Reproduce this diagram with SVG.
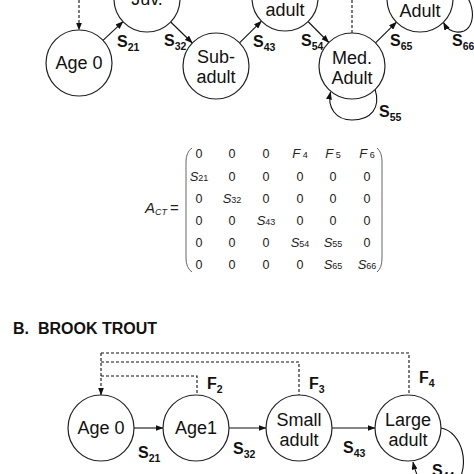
<svg xmlns="http://www.w3.org/2000/svg" width="474" height="474" viewBox="0 0 474 474">
<style>
.node{fill:#fff;stroke:#222;stroke-width:1.2}
.lbl{font-family:"Liberation Sans",Arial,sans-serif;font-size:18px;fill:#111;text-anchor:middle}
.edge{fill:none;stroke:#111;stroke-width:1.1}
.dash{fill:none;stroke:#111;stroke-width:1.1;stroke-dasharray:3 2}
.s{font-family:"Liberation Sans",Arial,sans-serif;font-size:16px;font-weight:bold;fill:#111}
.sub{font-size:10.5px}
.m{font-family:"Liberation Sans",Arial,sans-serif;font-size:12.5px;fill:#222;text-anchor:middle}
.mi{font-style:italic;font-size:13px}
.ms{font-size:9px;font-style:normal}
.title{font-family:"Liberation Sans",Arial,sans-serif;font-size:16px;font-weight:bold;fill:#111}
</style>
<defs>
<marker id="ah" markerWidth="8" markerHeight="6" refX="7.5" refY="3" orient="auto" markerUnits="userSpaceOnUse">
<path d="M0,0 L8,3 L0,6 Z" fill="#111"/>
</marker>
</defs>
<rect width="474" height="474" fill="#fff"/>

<g id="connectors">
<path class="dash" d="M79,0 V30" marker-end="url(#ah)"/>
<path class="edge" d="M103,40.4 L123,21.6" marker-end="url(#ah)"/>
<path class="edge" d="M170.7,22 L192.3,43" marker-end="url(#ah)"/>
<path class="edge" d="M239.5,42.8 L261.5,21.2" marker-end="url(#ah)"/>
<path class="edge" d="M308,21.5 L328.8,42.5" marker-end="url(#ah)"/>
<path class="edge" d="M375.5,42.8 L396.5,22.2" marker-end="url(#ah)"/>
<path class="dash" d="M352,0 V33"/>
<path class="edge" d="M375,89 C381,108 371,120 352,120 C336,120 327,108 330.5,92" marker-end="url(#ah)"/>
<path class="edge" d="M449,-16 C474,-10 479,24 464,31 C456,34 448,31 443.5,22.5" marker-end="url(#ah)"/>
<path class="dash" d="M101,353 V395" marker-end="url(#ah)"/>
<path class="dash" d="M101,353 H409 V395"/>
<path class="dash" d="M101,362 H299 V395"/>
<path class="dash" d="M101,376 H197 V395"/>
<path class="edge" d="M134,428 H163" marker-end="url(#ah)"/>
<path class="edge" d="M229,428 H266" marker-end="url(#ah)"/>
<path class="edge" d="M332,428 H375" marker-end="url(#ah)"/>
<path class="edge" d="M441,428 C462,432 471,465 456,485 C440,502 419,490 413,462" marker-end="url(#ah)"/>
</g>

<g id="node-age0-top"><circle class="node" cx="79" cy="63" r="33"/><text class="lbl" x="79" y="69">Age 0</text></g>
<g id="node-juv"><circle class="node" cx="147" cy="-1" r="33"/><text class="lbl" x="147" y="5">Juv.</text></g>
<g id="node-subadult"><circle class="node" cx="216" cy="66" r="33"/><text class="lbl" x="216" y="63">Sub-</text><text class="lbl" x="216" y="83">adult</text></g>
<g id="node-smalladult-top"><circle class="node" cx="285" cy="-2" r="33"/><text class="lbl" x="285" y="16">adult</text></g>
<g id="node-medadult"><circle class="node" cx="352" cy="66" r="33"/><text class="lbl" x="352" y="64">Med.</text><text class="lbl" x="352" y="84">Adult</text></g>
<g id="node-largeadult-top"><circle class="node" cx="420" cy="-1" r="33"/><text class="lbl" x="420" y="17">Adult</text></g>

<g id="labels-top">
<text class="s" x="117" y="47">S<tspan class="sub" dy="3.5">21</tspan></text>
<text class="s" x="164" y="46">S<tspan class="sub" dy="3.5">32</tspan></text>
<text class="s" x="253" y="47">S<tspan class="sub" dy="3.5">43</tspan></text>
<text class="s" x="301" y="46">S<tspan class="sub" dy="3.5">54</tspan></text>
<text class="s" x="390" y="46">S<tspan class="sub" dy="3.5">65</tspan></text>
<text class="s" x="452" y="46">S<tspan class="sub" dy="3.5">66</tspan></text>
<text class="s" x="379" y="117">S<tspan class="sub" dy="3.5">55</tspan></text>
</g>

<g id="matrix">
<text class="m" x="145" y="213" style="font-size:15px;text-anchor:start"><tspan style="font-style:italic">A</tspan><tspan style="font-size:9px;font-style:italic" dy="2">CT</tspan><tspan dy="-2" dx="3">=</tspan></text>
<path d="M192,148 Q186,152 186,162 V258 Q186,268 192,272" fill="none" stroke="#666" stroke-width="1"/>
<path d="M377,148 Q382,152 382,162 V258 Q382,268 377,272" fill="none" stroke="#666" stroke-width="1"/>
<text class="m" x="199" y="158">0</text><text class="m" x="232" y="158">0</text><text class="m" x="266" y="158">0</text>
<text class="m" x="300" y="158"><tspan class="mi">F</tspan><tspan class="ms"> 4</tspan></text>
<text class="m" x="333" y="158"><tspan class="mi">F</tspan><tspan class="ms"> 5</tspan></text>
<text class="m" x="367" y="158"><tspan class="mi">F</tspan><tspan class="ms"> 6</tspan></text>

<text class="m" x="199" y="180.5"><tspan class="mi">S</tspan><tspan class="ms">21</tspan></text><text class="m" x="232" y="180.5">0</text><text class="m" x="266" y="180.5">0</text><text class="m" x="300" y="180.5">0</text><text class="m" x="333" y="180.5">0</text><text class="m" x="367" y="180.5">0</text>

<text class="m" x="199" y="203">0</text><text class="m" x="232" y="203"><tspan class="mi">S</tspan><tspan class="ms">32</tspan></text><text class="m" x="266" y="203">0</text><text class="m" x="300" y="203">0</text><text class="m" x="333" y="203">0</text><text class="m" x="367" y="203">0</text>

<text class="m" x="199" y="225">0</text><text class="m" x="232" y="225">0</text><text class="m" x="266" y="225"><tspan class="mi">S</tspan><tspan class="ms">43</tspan></text><text class="m" x="300" y="225">0</text><text class="m" x="333" y="225">0</text><text class="m" x="367" y="225">0</text>

<text class="m" x="199" y="247">0</text><text class="m" x="232" y="247">0</text><text class="m" x="266" y="247">0</text><text class="m" x="300" y="247"><tspan class="mi">S</tspan><tspan class="ms">54</tspan></text><text class="m" x="333" y="247"><tspan class="mi">S</tspan><tspan class="ms">55</tspan></text><text class="m" x="367" y="247">0</text>

<text class="m" x="199" y="269">0</text><text class="m" x="232" y="269">0</text><text class="m" x="266" y="269">0</text><text class="m" x="300" y="269">0</text><text class="m" x="333" y="269"><tspan class="mi">S</tspan><tspan class="ms">65</tspan></text><text class="m" x="367" y="269"><tspan class="mi">S</tspan><tspan class="ms">66</tspan></text>
</g>

<text class="title" x="13" y="334" xml:space="preserve">B.  BROOK TROUT</text>

<g id="node-age0"><circle class="node" cx="101" cy="428" r="33"/><text class="lbl" x="101" y="434">Age 0</text></g>
<g id="node-age1"><circle class="node" cx="196" cy="428" r="33"/><text class="lbl" x="196" y="434">Age1</text></g>
<g id="node-smalladult"><circle class="node" cx="299" cy="428" r="33"/><text class="lbl" x="299" y="426">Small</text><text class="lbl" x="299" y="446">adult</text></g>
<g id="node-largeadult"><circle class="node" cx="408" cy="428" r="33"/><text class="lbl" x="408" y="426">Large</text><text class="lbl" x="408" y="446">adult</text></g>

<g id="labels-bottom">
<text class="s" x="138" y="458">S<tspan class="sub" dy="3.5">21</tspan></text>
<text class="s" x="233" y="454">S<tspan class="sub" dy="3.5">32</tspan></text>
<text class="s" x="343" y="453">S<tspan class="sub" dy="3.5">43</tspan></text>
<text class="s" x="432" y="476">S<tspan class="sub" dy="3.5">44</tspan></text>
<text class="s" x="207" y="389">F<tspan class="sub" dy="3.5">2</tspan></text>
<text class="s" x="309" y="389">F<tspan class="sub" dy="3.5">3</tspan></text>
<text class="s" x="419" y="383">F<tspan class="sub" dy="3.5">4</tspan></text>
</g>
</svg>
